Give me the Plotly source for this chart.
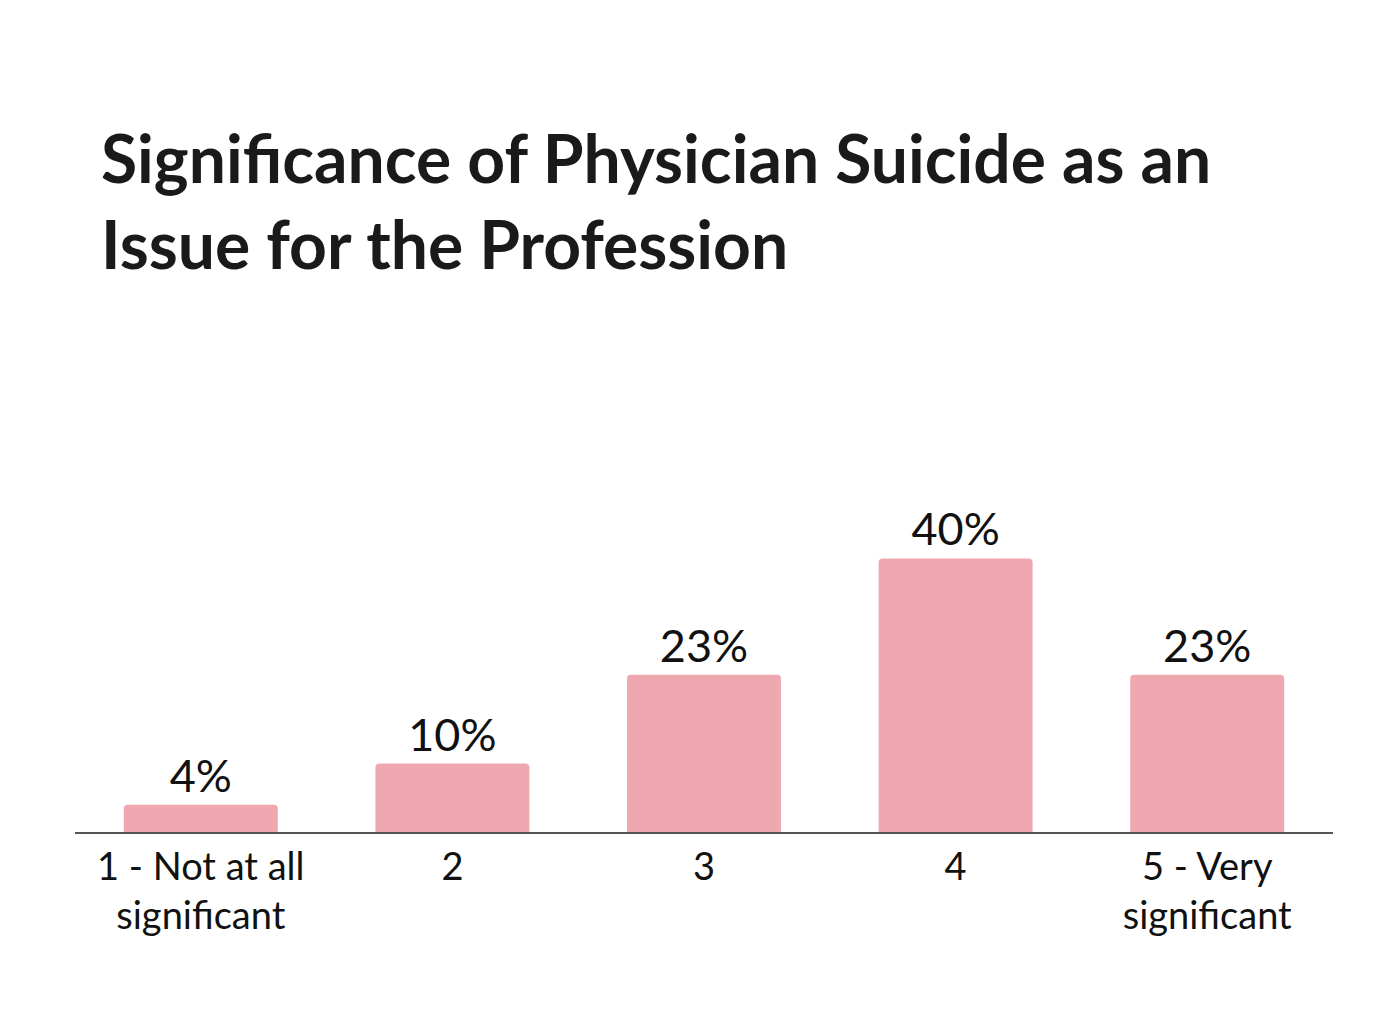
import plotly.graph_objects as go

# categorias y porcentajes
categorias = ["1 - Not at all<br>significant", "2", "3", "4", "5 - Very<br>significant"]
porcentajes = [4, 10, 23, 40, 23]
etiquetas = ["4%", "10%", "23%", "40%", "23%"]

fig = go.Figure()
fig.add_trace(go.Bar(
    x=categorias,
    y=porcentajes,
    text=etiquetas,
    textposition="outside",
    cliponaxis=False,
    constraintext="none",
    textfont=dict(size=45, color="#111111", family="Lato"),
    marker=dict(color="#EFA8B0", line=dict(width=0)),
    hoverinfo="skip",
))

fig.update_layout(
    width=1380,
    height=1014,
    margin=dict(l=67, r=55, t=482, b=190),
    paper_bgcolor="white",
    plot_bgcolor="white",
    bargap=0.388,
    barcornerradius=4,
    showlegend=False,
    font=dict(family="Lato", color="#111111"),
    title=dict(
        text="<b>Significance of Physician Suicide as an<br>Issue for the Profession</b>",
        font=dict(size=66, color="#1a1a1a", family="Lato"),
        xref="container", x=93 / 1380, xanchor="left",
        yref="container", y=1 - 175 / 1014, yanchor="top",
    ),
)

fig.update_xaxes(
    showline=True, linecolor="#555555", linewidth=2,
    showgrid=False, ticks="", tickfont=dict(size=38, color="#111111"),
)
fig.update_yaxes(visible=False, range=[0, 50])

fig.write_html("out.html")
